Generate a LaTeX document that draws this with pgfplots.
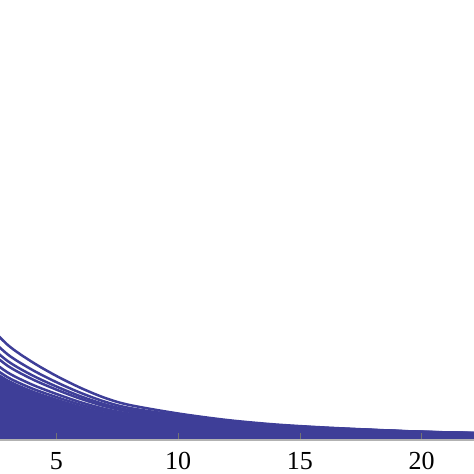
\documentclass[border=0pt]{standalone}
\usepackage{fontspec}
\setmainfont{Liberation Serif}
\usepackage{pgfplots}
\usepackage{pgfplotstable}
\pgfplotsset{compat=1.18}
\definecolor{curveblue}{RGB}{62,62,152}
\pgfplotstableread{
x c1 c2 c3 c4 c5 c6 f
2 120 108 99.6 93.6 85.2 79.2 76.8
3 95 85.5 78.85 74.1 67.45 62.7 60.8
4 78 70.2 64.74 60.84 55.38 51.48 49.92
5 64 57.79 53.45 50.34 46.00 42.89 41.65
6 52 47.06 43.60 41.13 37.67 35.20 34.22
7 42 38.22 35.57 33.68 31.04 29.15 28.39
8 35 32.03 29.94 28.46 26.37 24.89 24.29
10 26.5 24.65 23.35 22.42 21.12 20.19 19.82
12 20 19.0 18.3 17.8 17.1 16.6 16.4
14 15.5 14.96 14.58 14.31 13.93 13.66 13.55
16 12.5 12.19 11.97 11.81 11.59 11.44 11.38
18 10.2 10.04 9.92 9.84 9.73 9.65 9.61
20 8.3 8.20 8.13 8.08 8.01 7.96 7.94
23 6.5 6.45 6.41 6.39 6.35 6.32 6.31
}\curves
\begin{document}
\begin{tikzpicture}
\begin{axis}[
  scale only axis,
  width=474pt, height=440pt,
  xmin=2.68, xmax=22.146,
  ymin=0, ymax=440,
  axis x line=bottom,
  axis y line=none,
  x axis line style={-, draw=black!30, line width=1.5pt},
  xtick={5,10,15,20},
  tick align=inside,
  major tick length=7pt,
  xtick style={draw=black!55, line width=0.8pt},
  xticklabel style={font=\fontsize{26}{26}\selectfont, text=black, yshift=-9pt},
  /pgf/number format/assume math mode=true,
  axis on top,
  clip=true,
]
\addplot[fill=curveblue, draw=none, smooth] table[x=x, y=f] {\curves} \closedcycle;
\foreach \c in {c6,c5,c4,c3,c2,c1} {
  \addplot[curveblue, line width=2.5pt, smooth] table[x=x, y=\c] {\curves};
}
\coordinate (TL) at (rel axis cs:0,1);
\coordinate (BR) at (rel axis cs:1,0);
\end{axis}
\pgfresetboundingbox
\path[use as bounding box] (TL) rectangle ([yshift=-34pt]BR);
\end{tikzpicture}
\end{document}
